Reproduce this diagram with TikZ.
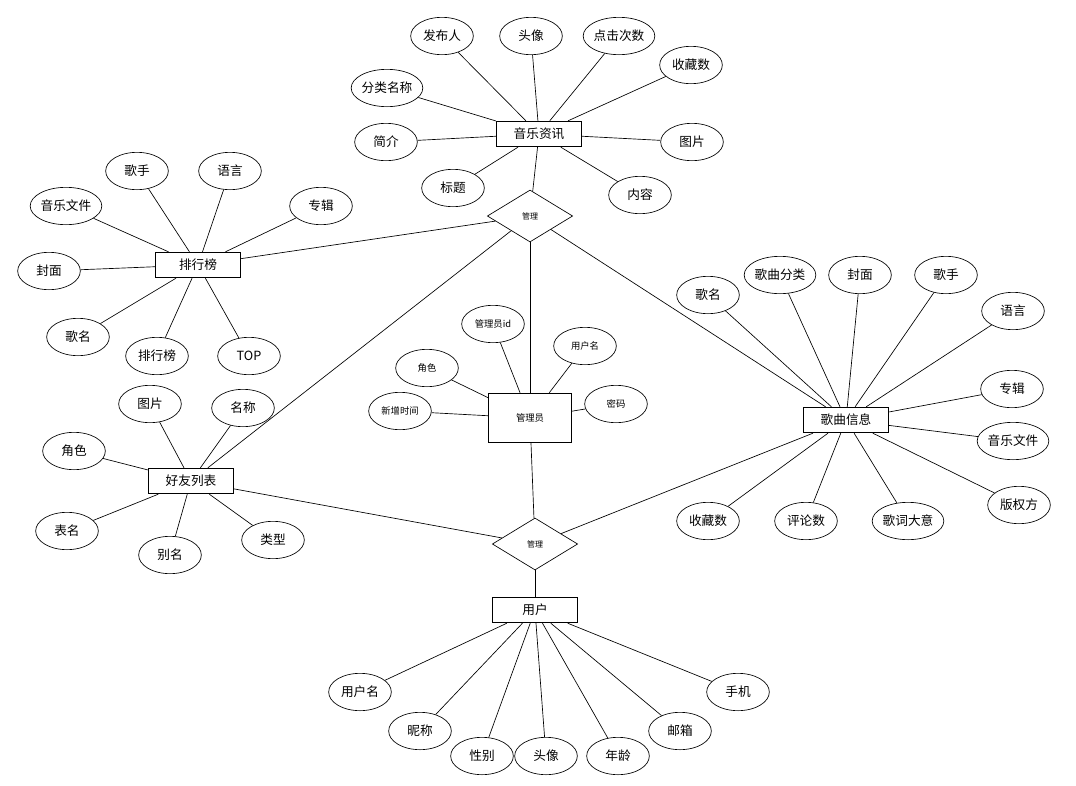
\documentclass[tikz,border=0pt]{standalone}
\usepackage{fontspec}
\setmainfont{Noto Sans CJK SC}
\usetikzlibrary{shapes.geometric}
\begin{document}
\begin{tikzpicture}[x=0.75pt,y=-0.75pt,
  ent/.style={draw,thick,minimum width=64pt,minimum height=19pt,inner sep=1pt,font=\fontsize{9.5}{10}\selectfont},
  att/.style={draw,ellipse,minimum width=47pt,minimum height=28pt,inner sep=0pt,font=\fontsize{9.5}{10}\selectfont},
  satt/.style={att,font=\fontsize{7}{8}\selectfont},
  rel/.style={draw,diamond,aspect=1.65,minimum width=64pt,minimum height=39pt,inner sep=0pt,font=\fontsize{6}{7}\selectfont},
  every path/.style={line width=0.5pt}]
\useasboundingbox (0,0) rectangle (1076,786);
% entities
\node[ent] (news) at (539,134) {音乐资讯};
\node[ent] (rank) at (198,265) {排行榜};
\node[ent,minimum width=62pt,minimum height=37pt,font=\fontsize{7}{8}\selectfont] (adm) at (530,418) {管理员};
\node[ent] (fr) at (191,481) {好友列表};
\node[ent] (user) at (535,610) {用户};
\node[ent] (song) at (846,420) {歌曲信息};
\node[rel] (m1) at (530,216) {管理};
\node[rel] (m2) at (535,544) {管理};
% news attrs
\foreach \n/\x/\y/\t in {a1/442/36/发布人,a2/531/36/头像,a3/619/36/点击次数,a4/691/65/收藏数,a5/387/88/分类名称,a6/386/142/简介,a7/692/142/图片,a8/453/188/标题,a9/640/195/内容}
  {\node[att] (\n) at (\x,\y) {\t}; \draw (news) -- (\n);}
% rank attrs
\foreach \n/\x/\y/\t in {b1/137/171/歌手,b2/230/171/语言,b3/66/206/音乐文件,b4/321/206/专辑,b5/49/271/封面,b6/78/337/歌名,b7/157/356/排行榜,b8/249/356/TOP}
  {\node[att] (\n) at (\x,\y) {\t}; \draw (rank) -- (\n);}
% admin attrs
\foreach \n/\x/\y/\t in {c1/493/324/管理员id,c2/585/346/用户名,c3/427/368/角色,c4/616/404/密码,c5/400/411/新增时间}
  {\node[satt] (\n) at (\x,\y) {\t}; \draw (adm) -- (\n);}
% friend attrs
\foreach \n/\x/\y/\t in {d1/150/404/图片,d2/243/408/名称,d3/74/451/角色,d4/67/531/表名,d5/170/555/别名,d6/273/540/类型}
  {\node[att] (\n) at (\x,\y) {\t}; \draw (fr) -- (\n);}
% user attrs
\foreach \n/\x/\y/\t in {e1/360/692/用户名,e2/420/731/昵称,e3/482/756/性别,e4/546/756/头像,e5/618/756/年龄,e6/680/731/邮箱,e7/738/692/手机}
  {\node[att] (\n) at (\x,\y) {\t}; \draw (user) -- (\n);}
% song attrs
\foreach \n/\x/\y/\t in {f1/708/295/歌名,f2/780/275/歌曲分类,f3/860/275/封面,f4/946/275/歌手,f5/1013/311/语言,f6/1012/389/专辑,f7/1013/441/音乐文件,f8/1019/505/版权方,f9/708/521/收藏数,f10/806/521/评论数,f11/908/521/歌词大意}
  {\node[att] (\n) at (\x,\y) {\t}; \draw (song) -- (\n);}
% relations
\draw (m1) -- (news);
\draw (m1) -- (rank);
\draw (m1) -- (fr);
\draw (m1) -- (song);
\draw (m1) -- (adm);
\draw (adm) -- (m2);
\draw (m2) -- (fr);
\draw (m2) -- (song);
\draw (m2) -- (user);
\end{tikzpicture}
\end{document}
